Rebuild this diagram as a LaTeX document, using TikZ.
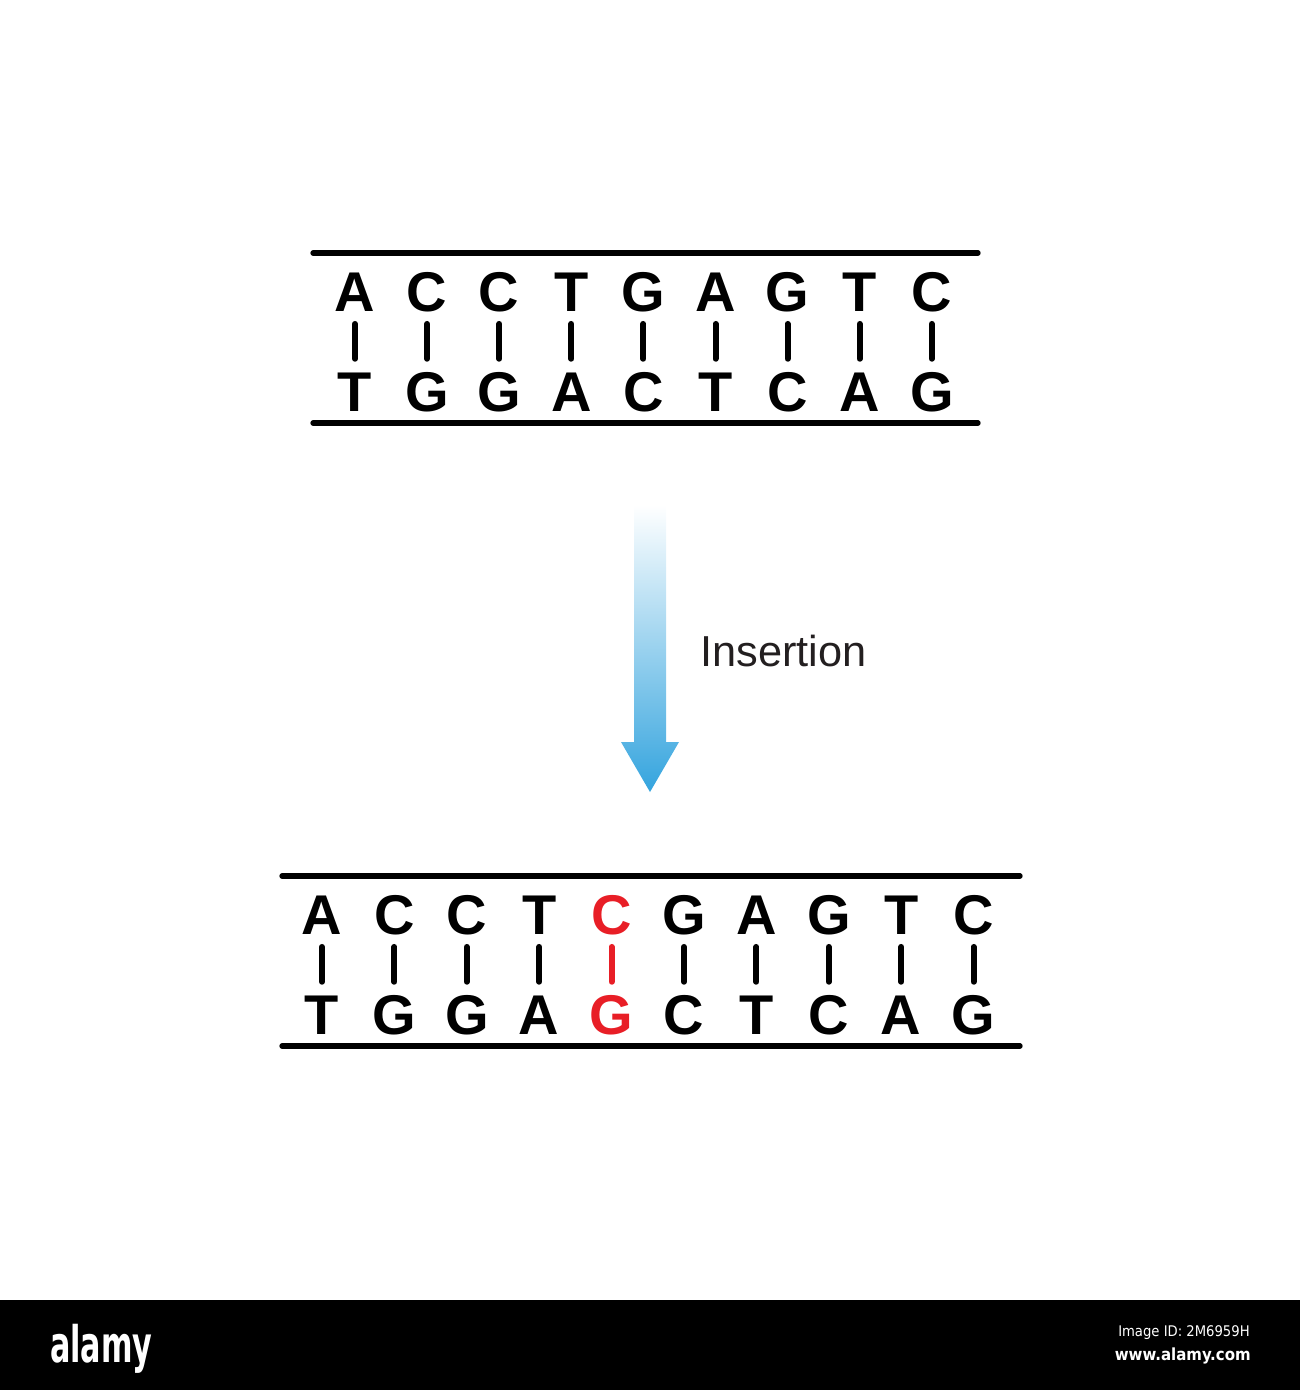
\documentclass[tikz,border=0pt]{standalone}
\usepackage{fontspec}
\setmainfont{Liberation Sans}
\newfontfamily\bandfont{DejaVu Sans Condensed}
\usepackage{xcolor}
\definecolor{mutred}{RGB}{232,30,38}
\definecolor{arrowblue}{RGB}{52,164,222}
\definecolor{labelgray}{RGB}{35,31,32}
\tikzset{
  base/.style={inner sep=0pt, text height=30pt, text depth=0pt, font=\fontsize{42}{42}\bfseries\selectfont},
  pair/.style={line width=4.5pt, line cap=round, shorten <=9.5pt, shorten >=9pt},
  strand/.style={line width=4pt, line cap=round},
}

\begin{document}
\begin{tikzpicture}[x=0.75pt,y=0.75pt,yscale=-1,xscale=1]
\useasboundingbox (0,0) rectangle (1300,1390);

% original sequence
\draw[strand] (313,253) coordinate (o-l1) -- (978,253) coordinate (o-r1);
\draw[strand] (313,423) coordinate (o-l2) -- (978,423) coordinate (o-r2);
\foreach \t/\b [count=\i] in {A/T,C/G,C/G,T/A,G/C,A/T,G/C,T/A,C/G}{
  \node[base] (ot\i) at ({355+72.1*(\i-1)},291) {\t};
  \node[base] (ob\i) at ({355+72.1*(\i-1)},391) {\b};
  \draw[pair] (ot\i) -- (ob\i);
}

% arrow
\shade[top color=white, bottom color=arrowblue] (634,505) -- (666,505) -- (666,742) -- (679,742)
  -- (650,792) -- (621,742) -- (634,742) -- cycle;
\node[anchor=base west, inner sep=0pt, text=labelgray, font=\fontsize{32.5}{33}\selectfont] (ins) at (700,666) {Insertion};

% mutated sequence
\draw[strand] (282,876) coordinate (m-l1) -- (1020,876) coordinate (m-r1);
\draw[strand] (282,1046) coordinate (m-l2) -- (1020,1046) coordinate (m-r2);
\foreach \t/\b [count=\i] in {A/T,C/G,C/G,T/A,C/G,G/C,A/T,G/C,T/A,C/G}{
  \ifnum\i=5 \def\col{mutred}\else \def\col{black}\fi
  \node[base, text=\col] (mt\i) at ({322+72.4*(\i-1)},914) {\t};
  \node[base, text=\col] (mb\i) at ({322+72.4*(\i-1)},1014) {\b};
  \draw[pair, draw=\col] (mt\i) -- (mb\i);
}

% band
\fill[black] (0,1300) rectangle (1300,1390);
\node[anchor=base west, inner sep=0pt, text=white, font=\bandfont\bfseries\fontsize{36}{36}\selectfont, xscale=0.7, yscale=1.05] (logo) at (50,1362) {alamy};
\node[anchor=east, inner sep=0pt, text=white, font=\bandfont\fontsize{11}{11}\selectfont] (imgid) at (1250,1333) {Image ID: 2M6959H};
\node[anchor=east, inner sep=0pt, text=white, font=\bandfont\bfseries\fontsize{12.5}{12.5}\selectfont] (site) at (1251,1356) {www.alamy.com};
\end{tikzpicture}
\end{document}
